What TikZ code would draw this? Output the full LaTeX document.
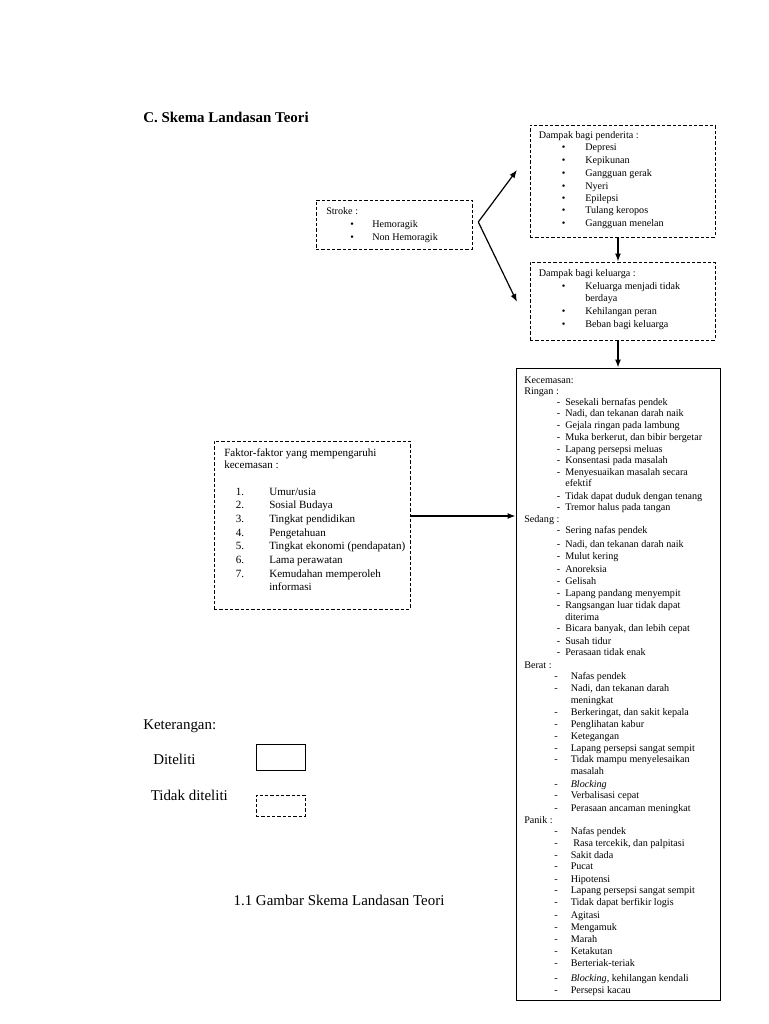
\documentclass[tikz,border=0pt]{standalone}
\usepackage{fontspec}
\setmainfont{Liberation Serif}
\usetikzlibrary{arrows.meta,fit}
\begin{document}
\begin{tikzpicture}[x=0.75pt,y=-0.75pt,
 every node/.style={inner sep=0pt},
 txt/.style={anchor=mid west,font=\fontsize{7.6}{9}\selectfont},
 ftxt/.style={anchor=mid west,font=\fontsize{8.3}{10}\selectfont},
 big/.style={anchor=mid west,font=\fontsize{11.2}{13}\selectfont},
 dbox/.style={draw,line width=0.75pt,dash pattern=on 2.4pt off 1.6pt,inner sep=0pt},
 sbox/.style={draw,line width=0.75pt,inner sep=0pt},
 arr/.style={line width=0.9pt,-{Latex[length=6pt,width=4.5pt]}}]
\useasboundingbox (0,0) rectangle (768,1024);

% title
\node[big,font=\fontsize{11.2}{13}\selectfont\bfseries] (title) at (143,119) {C. Skema Landasan Teori};

% boxes
\node[dbox,fit={(316,200)(472,249)}] (stroke) {};
\node[dbox,fit={(530,125)(715,237)}] (pend) {};
\node[dbox,fit={(530,262)(715,340)}] (kel) {};
\node[sbox,fit={(516,368)(720,1000)}] (kec) {};
\node[dbox,fit={(214,441)(410,609)}] (fak) {};

% stroke text
\node[txt] (st0) at (326,211) {Stroke :};
\foreach \yy/\lbl [count=\i] in {224.3/Hemoragik,237/Non Hemoragik}{
  \node[txt] (sb\i) at (350,\yy) {•};
  \node[txt] (sl\i) at (372,\yy) {\lbl};
}

% penderita text
\node[txt] (pd0) at (538.5,135) {Dampak bagi penderita :};
\foreach \yy/\lbl [count=\i] in {147.7/Depresi,160.7/Kepikunan,173.3/Gangguan gerak,186/Nyeri,198.3/Epilepsi,210.7/Tulang keropos,223.3/Gangguan menelan}{
  \node[txt] (pb\i) at (561.5,\yy) {•};
  \node[txt] (pl\i) at (585,\yy) {\lbl};
}

% keluarga text
\node[txt] (kl0) at (538.5,273.5) {Dampak bagi keluarga :};
\foreach \yy/\lbl [count=\i] in {286.7/Keluarga menjadi tidak,311.7/Kehilangan peran,324/Beban bagi keluarga}{
  \node[txt] (kb\i) at (561.5,\yy) {•};
  \node[txt] (kt\i) at (585,\yy) {\lbl};
}
\node[txt] (ktx) at (585,298.3) {berdaya};

% kecemasan text
\node[txt] (kc0) at (524,380.5) {Kecemasan:};
\node[txt] (kr0) at (524,391.7) {Ringan :};
\foreach \yy/\lbl [count=\i] in {402.7/Sesekali bernafas pendek,413.3/{Nadi, dan tekanan darah naik},425.7/Gejala ringan pada lambung,437.3/{Muka berkerut, dan bibir bergetar},449/Lapang persepsi meluas,460.3/Konsentasi pada masalah,472/Menyesuaikan masalah secara,496.3/Tidak dapat duduk dengan tenang,507.7/Tremor halus pada tangan}{
  \node[txt] (rd\i) at (556.5,\yy) {-};
  \node[txt] (rt\i) at (565,\yy) {\lbl};
}
\node[txt] (rtx) at (565,483.5) {efektif};
\node[txt] (ks0) at (524,519.3) {Sedang :};
\foreach \yy/\lbl [count=\i] in {530.7/Sering nafas pendek,544.3/{Nadi, dan tekanan darah naik},556.7/Mulut kering,569.3/Anoreksia,581/Gelisah,593.3/Lapang pandang menyempit,605.7/Rangsangan luar tidak dapat,628.7/{Bicara banyak, dan lebih cepat},641/Susah tidur,652.3/Perasaan tidak enak}{
  \node[txt] (sd\i) at (556.5,\yy) {-};
  \node[txt] (stx\i) at (565,\yy) {\lbl};
}
\node[txt] (sdx) at (565,617.3) {diterima};
\node[txt] (kb0) at (524,665) {Berat :};
\foreach \yy/\lbl [count=\i] in {676/Nafas pendek,688.3/{Nadi, dan tekanan darah},712.3/{Berkeringat, dan sakit kepala},724/Penglihatan kabur,736/Ketegangan,748.3/Lapang persepsi sangat sempit,759.7/Tidak mampu menyelesaikan,784/\textit{Blocking},795.3/Verbalisasi cepat,808/Perasaan ancaman meningkat}{
  \node[txt] (bd\i) at (554,\yy) {-};
  \node[txt] (bt\i) at (570.5,\yy) {\lbl};
}
\node[txt] (btx1) at (570.5,700) {meningkat};
\node[txt] (btx2) at (570.5,771.7) {masalah};
\node[txt] (kp0) at (524,820) {Panik :};
\foreach \yy/\lbl [count=\i] in {831.7/Nafas pendek,843.3/{\ Rasa tercekik, dan palpitasi},855/Sakit dada,866.7/Pucat,879.3/Hipotensi,890.7/Lapang persepsi sangat sempit,902.7/Tidak dapat berfikir logis,915/Agitasi,927.3/Mengamuk,939.3/Marah,951.7/Ketakutan,963.7/Berteriak-teriak,978.3/{\textit{Blocking}, kehilangan kendali},990.3/Persepsi kacau}{
  \node[txt] (pdd\i) at (554,\yy) {-};
  \node[txt] (ptt\i) at (570.5,\yy) {\lbl};
}

% faktor text
\node[ftxt] (f0) at (224,453.3) {Faktor-faktor yang mempengaruhi};
\node[ftxt] (f00) at (224,465.5) {kecemasan :};
\foreach \yy/\lbl [count=\i] in {492.3/{Umur/usia},505.7/Sosial Budaya,519.3/Tingkat pendidikan,533.3/Pengetahuan,546.7/Tingkat ekonomi (pendapatan),560/Lama perawatan,574/Kemudahan memperoleh}{
  \node[ftxt] (fn\i) at (235.5,\yy) {\i.};
  \node[ftxt] (ft\i) at (269,\yy) {\lbl};
}
\node[ftxt] (ftx) at (269,587.8) {informasi};

% arrows
\coordinate (fork) at (478.3,222);
\coordinate (tipA) at (517,170);
\coordinate (tipB) at (517,302);
\draw[arr] (fork) -- (tipA);
\draw[arr] (fork) -- (tipB);
\draw[arr] (pend.south -| kec.north) -- (kel.north -| kec.north);
\draw[arr] (kel.south -| kec.north) -- (kec.north);
\draw[arr] (fak.east |- 0,516) -- (kec.west |- 0,516);

% legend
\node[big] (ket) at (143,726.7) {Keterangan:};
\node[big] (dit) at (153,761) {Diteliti};
\node[sbox,fit={(256,744.5)(305,770)}] (lg1) {};
\node[big] (tdit) at (150.5,797.3) {Tidak diteliti};
\node[dbox,fit={(256,795)(305,816)}] (lg2) {};

% caption
\node[big] (cap) at (233.3,902) {1.1 Gambar Skema Landasan Teori};
\end{tikzpicture}
\end{document}
